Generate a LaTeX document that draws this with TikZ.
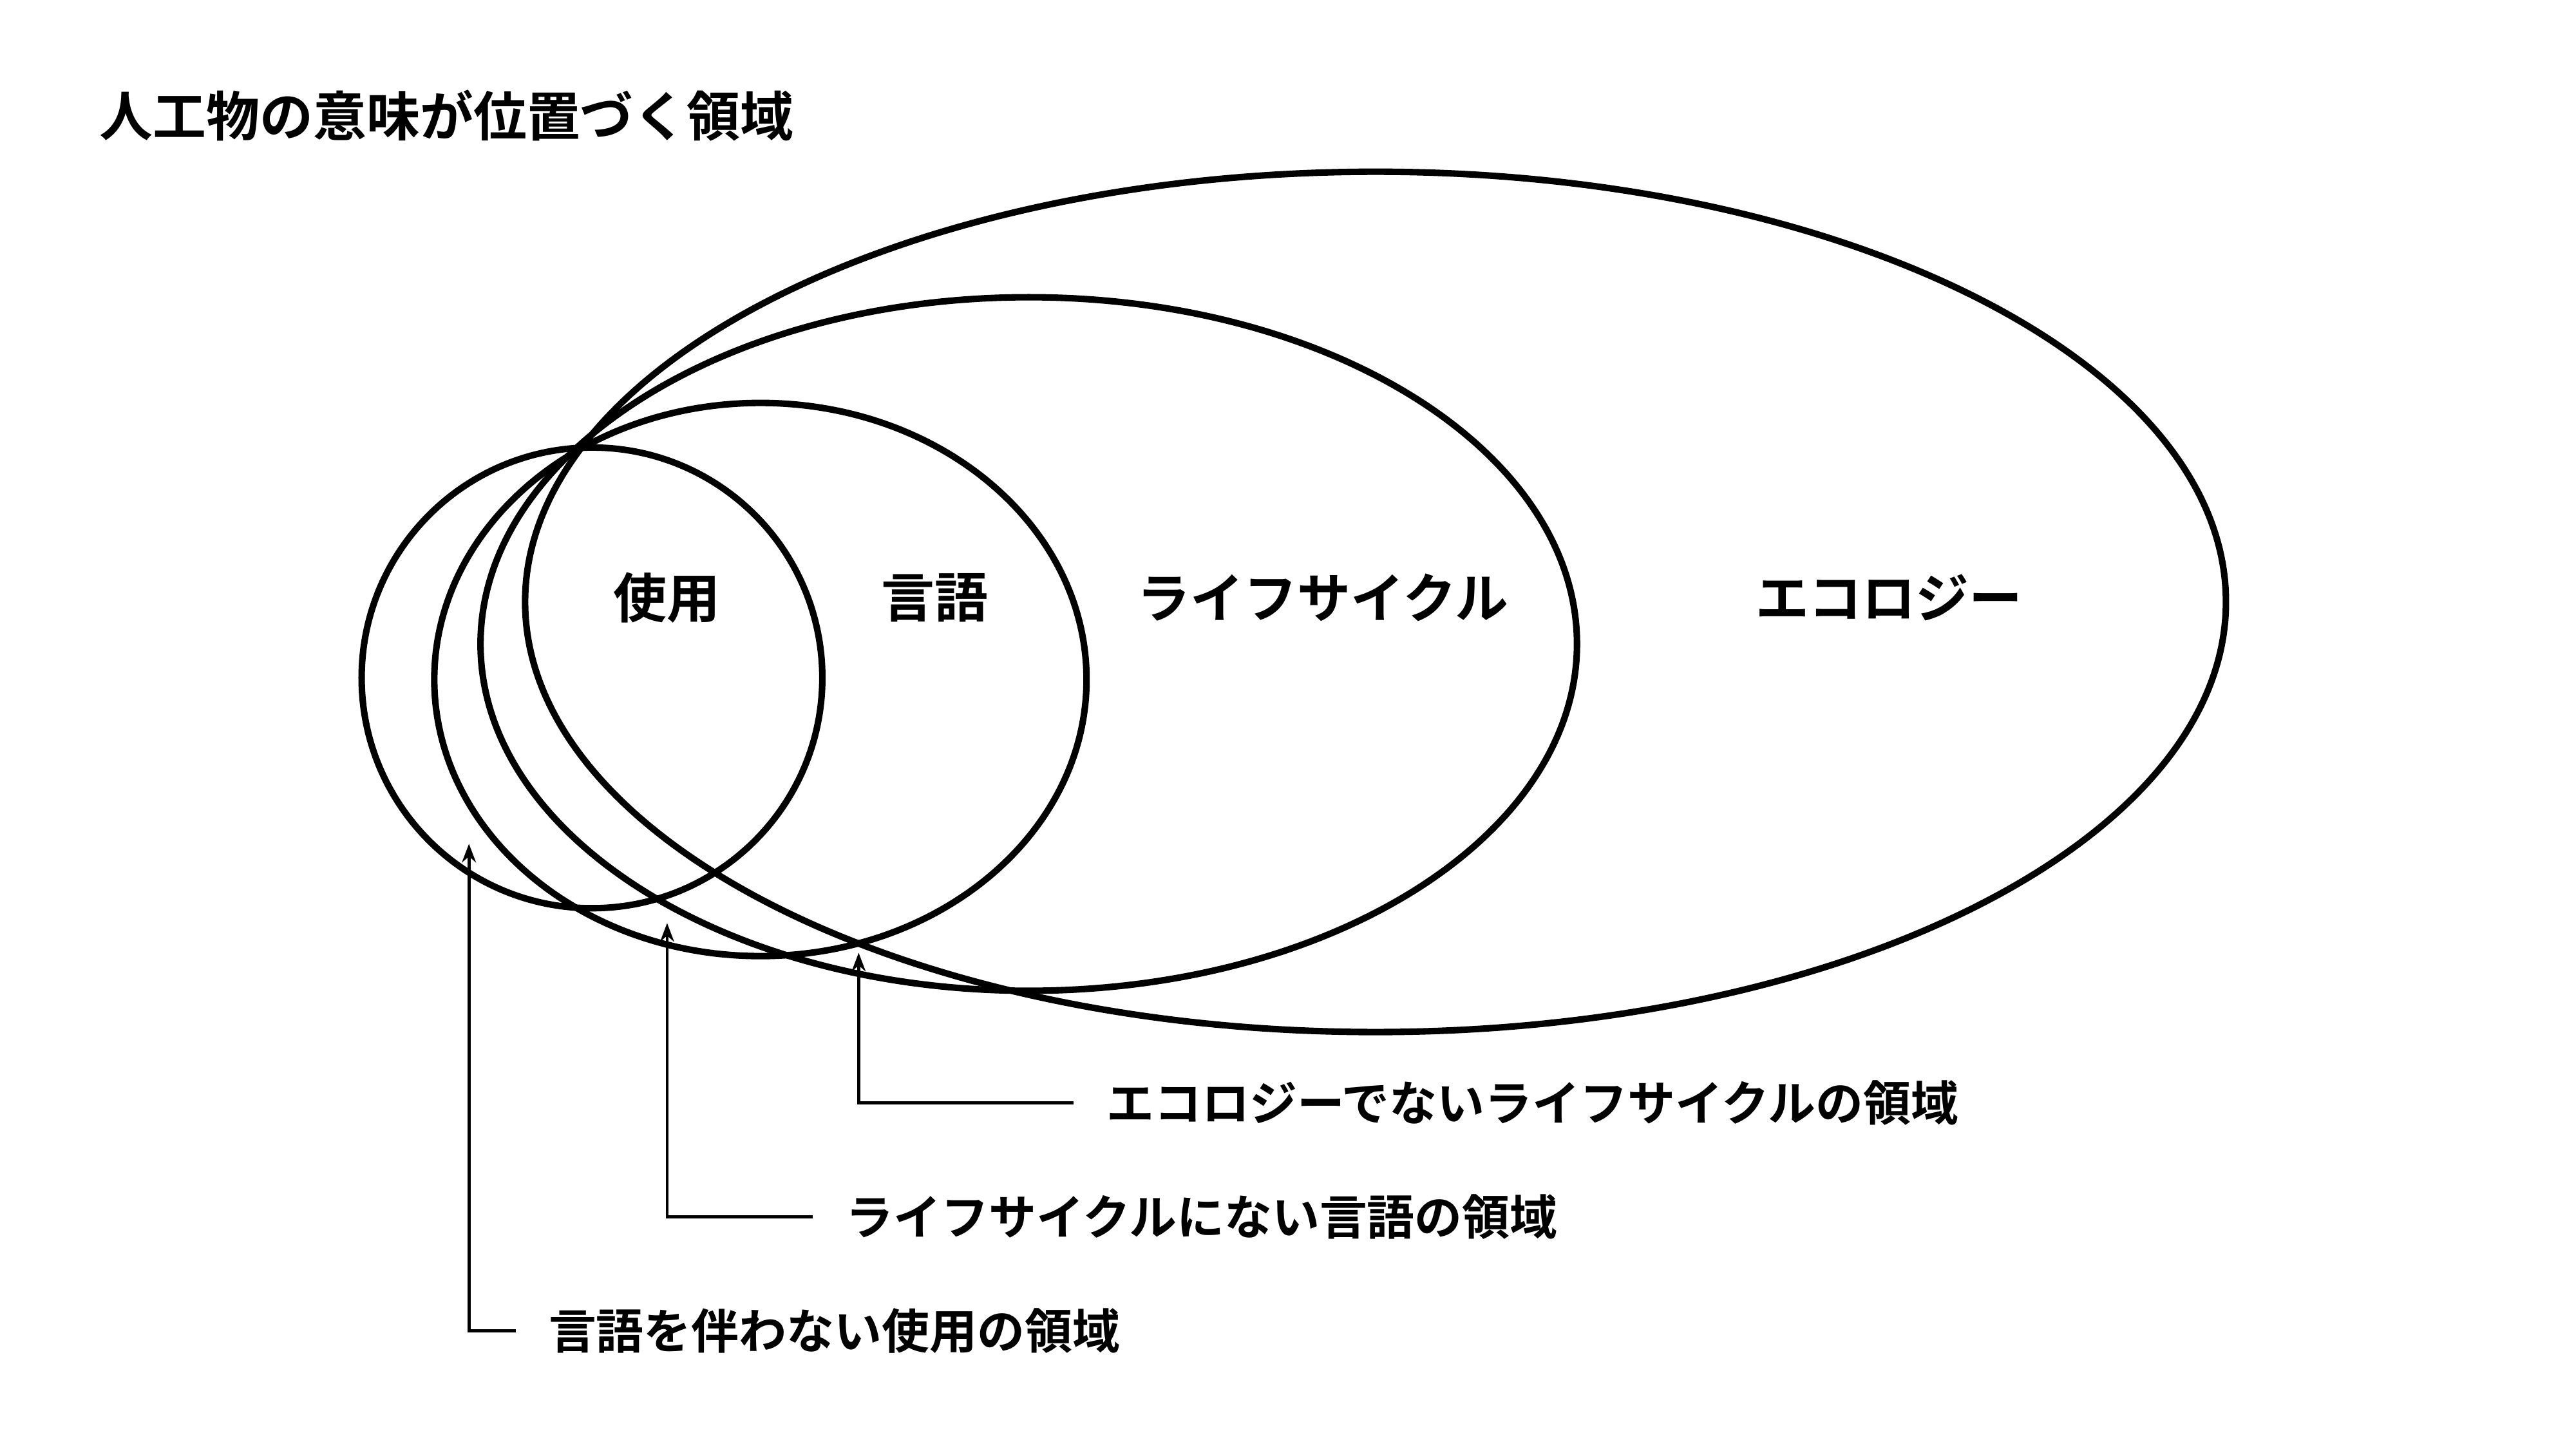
\documentclass[tikz,border=0pt]{standalone}
\usepackage{fontspec}
\newfontfamily\cjk{Noto Sans CJK JP Bold}
\usetikzlibrary{arrows.meta}
\begin{document}
\begin{tikzpicture}[x=0.025cm,y=-0.025cm,
  ring/.style={draw=black,line width=2.8pt},
  lead/.style={draw=black,line width=1.3pt,-{Stealth[length=8pt,width=6pt]}},
  big/.style={font=\cjk\fontsize{23pt}{27pt}\selectfont,inner sep=0pt},
  note/.style={font=\cjk\fontsize{20.5pt}{24pt}\selectfont,inner sep=0pt,anchor=west}]
\useasboundingbox (0,0) rectangle (1560,877.5);
\node[big,anchor=west] (title) at (60,70) {人工物の意味が位置づく領域};
\draw[ring] (358.5,410.5) ellipse [x radius=139.5,y radius=139.5];
\draw[ring] (460.5,411.5) ellipse [x radius=197.5,y radius=167.5];
\draw[ring] (623,390) ellipse [x radius=332,y radius=210];
\draw[ring] (833,364.5) ellipse [x radius=515,y radius=260.5];
\node[big] (use) at (404,362) {使用};
\node[big] (lang) at (566,362) {言語};
\node[big] (life) at (801,362) {ライフサイクル};
\node[big] (eco) at (1144,362) {エコロジー};
\node[note] (n1) at (332,806) {言語を伴わない使用の領域};
\node[note] (n2) at (512,737) {ライフサイクルにない言語の領域};
\node[note] (n3) at (670,668) {エコロジーでないライフサイクルの領域};
\coordinate (a1) at (284,511);
\coordinate (a2) at (404,559);
\coordinate (a3) at (520,577);
\draw[lead] ([xshift=-14pt]n1.west) -| (a1);
\draw[lead] ([xshift=-14pt]n2.west) -| (a2);
\draw[lead] ([xshift=-14pt]n3.west) -| (a3);
\end{tikzpicture}
\end{document}
